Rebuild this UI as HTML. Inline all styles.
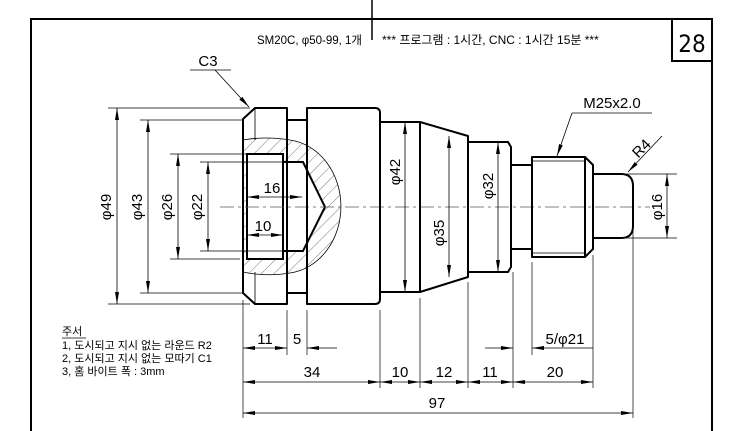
<!DOCTYPE html>
<html><head><meta charset="utf-8"><style>
html,body{margin:0;padding:0;background:#fff;}
svg{display:block;}
text{font-family:"Liberation Sans","Noto Sans CJK KR",sans-serif;fill:#000;}
.d{font-family:"DejaVu Sans Condensed","DejaVu Sans","Liberation Sans",sans-serif;font-size:15px;}
</style></head><body>
<svg width="743" height="431" viewBox="0 0 743 431" xmlns="http://www.w3.org/2000/svg">
<defs>
<marker id="a" viewBox="0 0 12 4" refX="12" refY="2" markerWidth="12" markerHeight="4" markerUnits="userSpaceOnUse" orient="auto-start-reverse"><path d="M0,0 L12,2 L0,4Z" fill="#000"/></marker>
<pattern id="h" width="9" height="9" patternUnits="userSpaceOnUse" patternTransform="rotate(45)"><line x1="0" y1="0" x2="0" y2="9" stroke="#555" stroke-width="0.8"/></pattern>
</defs>
<g stroke="#000" fill="none" stroke-width="2">
<path d="M31,431 V19 H712 V431"/>
<path d="M672,19 V61 H712"/>
</g>
<line x1="372" y1="0" x2="372" y2="40" stroke="#000" stroke-width="1.5"/>
<text x="362" y="44" font-size="11.5" text-anchor="end">SM20C, φ50-99, 1개</text>
<text x="382" y="44" font-size="12">*** 프로그램 : 1시간, CNC : 1시간 15분 ***</text>
<text x="692" y="52" text-anchor="middle" class="d" style="font-size:24px">28</text>

<path d="M243,140 Q266,136 290,140 A58 67 0 0 1 290,273 Q266,277 243,272 Z" fill="url(#h)" stroke="none"/>
<path d="M243,140 Q266,136 290,140 A58 67 0 0 1 290,273 Q266,277 243,272" fill="none" stroke="#000" stroke-width="0.8"/>
<path d="M247,154 H283 V259 H247 Z" fill="#fff" stroke="#000" stroke-width="2"/>
<path d="M283,162 H303 L325,207 L303,251 H283 Z" fill="#fff" stroke="#000" stroke-width="2"/>

<line x1="220" y1="207" x2="650" y2="207" stroke="#555" stroke-width="0.8" stroke-dasharray="14,4,3,4"/>

<g stroke="#000" stroke-width="2" fill="none" stroke-linejoin="round">
<path d="M255,108 H287 V304 H255 L243,293 V119 Z"/>
<path d="M287,120 H307 M287,293 H307"/>
<path d="M307,304 V108 H375 Q380,108 380,113 V299 Q380,304 375,304 Z"/>
<path d="M380,122 H420 V292 H380"/>
<path d="M420,122 L468,136 V277 L420,292"/>
<path d="M468,142 H508 L511,147 V267 L508,272 H468"/>
<path d="M511,165 H532 M511,249 H532"/>
<path d="M532,157 H585 L593,165 V249 L585,257 H532 Z"/>
<path d="M585,157 V257"/>
<path d="M593,174 H621 Q633,174 633,186 V226 Q633,238 621,238 H593"/>
</g>
<g stroke="#000" stroke-width="0.8" fill="none">
<path d="M255,108 V140 M255,272 V304"/>
<path d="M243,140 V154 M243,259 V272"/>
<path d="M532,161 H585 M532,253 H585"/>
</g>

<g stroke="#000" stroke-width="0.7">
<line x1="108" y1="108" x2="250" y2="108"/><line x1="108" y1="304" x2="250" y2="304"/>
<line x1="140" y1="120" x2="243" y2="120"/><line x1="140" y1="293" x2="243" y2="293"/>
<line x1="170" y1="154" x2="247" y2="154"/><line x1="170" y1="259" x2="240" y2="259"/>
<line x1="200" y1="162" x2="283" y2="162"/><line x1="200" y1="251" x2="283" y2="251"/>
<line x1="622" y1="174" x2="677" y2="174"/><line x1="622" y1="238" x2="677" y2="238"/>
<line x1="243" y1="300" x2="243" y2="418"/>
<line x1="287" y1="310" x2="287" y2="355"/>
<line x1="307" y1="310" x2="307" y2="355"/>
<line x1="380" y1="310" x2="380" y2="388"/>
<line x1="420" y1="298" x2="420" y2="388"/>
<line x1="468" y1="282" x2="468" y2="388"/>
<line x1="513" y1="272" x2="513" y2="388"/>
<line x1="532" y1="262" x2="532" y2="355"/>
<line x1="593" y1="255" x2="593" y2="388"/>
<line x1="633" y1="230" x2="633" y2="418"/>
</g>

<g stroke="#000" stroke-width="0.8" marker-start="url(#a)" marker-end="url(#a)">
<line x1="117" y1="108" x2="117" y2="304"/>
<line x1="148" y1="120" x2="148" y2="293"/>
<line x1="178" y1="154" x2="178" y2="259"/>
<line x1="208" y1="162" x2="208" y2="251"/>
<line x1="247" y1="197" x2="302" y2="197"/>
<line x1="247" y1="235" x2="283" y2="235"/>
<line x1="405" y1="122" x2="405" y2="292"/>
<line x1="449" y1="136" x2="449" y2="277"/>
<line x1="498" y1="142" x2="498" y2="272"/>
<line x1="667" y1="174" x2="667" y2="238"/>
<line x1="243" y1="348" x2="287" y2="348"/>
<line x1="243" y1="382" x2="380" y2="382"/>
<line x1="380" y1="382" x2="420" y2="382"/>
<line x1="420" y1="382" x2="468" y2="382"/>
<line x1="468" y1="382" x2="513" y2="382"/>
<line x1="513" y1="382" x2="593" y2="382"/>
<line x1="243" y1="413" x2="633" y2="413"/>
</g>
<g stroke="#000" stroke-width="0.8">
<line x1="337" y1="348" x2="307" y2="348" marker-end="url(#a)"/>
<line x1="485" y1="348" x2="513" y2="348" marker-end="url(#a)"/>
<line x1="593" y1="348" x2="532" y2="348" marker-end="url(#a)"/>
<line x1="231" y1="70" x2="190" y2="70"/>
<line x1="215" y1="70" x2="249" y2="107" marker-end="url(#a)"/>
<line x1="652" y1="113" x2="572" y2="113"/>
<line x1="572" y1="113" x2="557" y2="156" marker-end="url(#a)"/>
<line x1="662" y1="136" x2="628" y2="172" marker-end="url(#a)"/>
</g>

<g class="d">
<text x="208" y="66" text-anchor="middle">C3</text>
<text x="612" y="108" text-anchor="middle">M25x2.0</text>
<text transform="translate(645,152) rotate(-45)" text-anchor="middle">R4</text>
<text transform="translate(111,207) rotate(-90)" text-anchor="middle">φ49</text>
<text transform="translate(142,207) rotate(-90)" text-anchor="middle">φ43</text>
<text transform="translate(172,207) rotate(-90)" text-anchor="middle">φ26</text>
<text transform="translate(202,207) rotate(-90)" text-anchor="middle">φ22</text>
<text x="272" y="193" text-anchor="middle">16</text>
<text x="263" y="231" text-anchor="middle">10</text>
<text transform="translate(400,172) rotate(-90)" text-anchor="middle">φ42</text>
<text transform="translate(444,233) rotate(-90)" text-anchor="middle">φ35</text>
<text transform="translate(493,186) rotate(-90)" text-anchor="middle">φ32</text>
<text transform="translate(662,207) rotate(-90)" text-anchor="middle">φ16</text>
<text x="265" y="344" text-anchor="middle">11</text>
<text x="297" y="344" text-anchor="middle">5</text>
<text x="565" y="344" text-anchor="middle">5/φ21</text>
<text x="312" y="377" text-anchor="middle">34</text>
<text x="400" y="377" text-anchor="middle">10</text>
<text x="444" y="377" text-anchor="middle">12</text>
<text x="490" y="377" text-anchor="middle">11</text>
<text x="555" y="377" text-anchor="middle">20</text>
<text x="437" y="408" text-anchor="middle">97</text>
</g>

<g font-size="11">
<text x="62" y="335">주서</text>
<line x1="62" y1="338" x2="86" y2="338" stroke="#000" stroke-width="0.8"/>
<text x="62" y="349">1, 도시되고 지시 없는 라운드 R2</text>
<text x="62" y="362">2, 도시되고 지시 없는 모따기 C1</text>
<text x="62" y="375">3, 홈 바이트 폭 : 3mm</text>
</g>
</svg>
</body></html>
